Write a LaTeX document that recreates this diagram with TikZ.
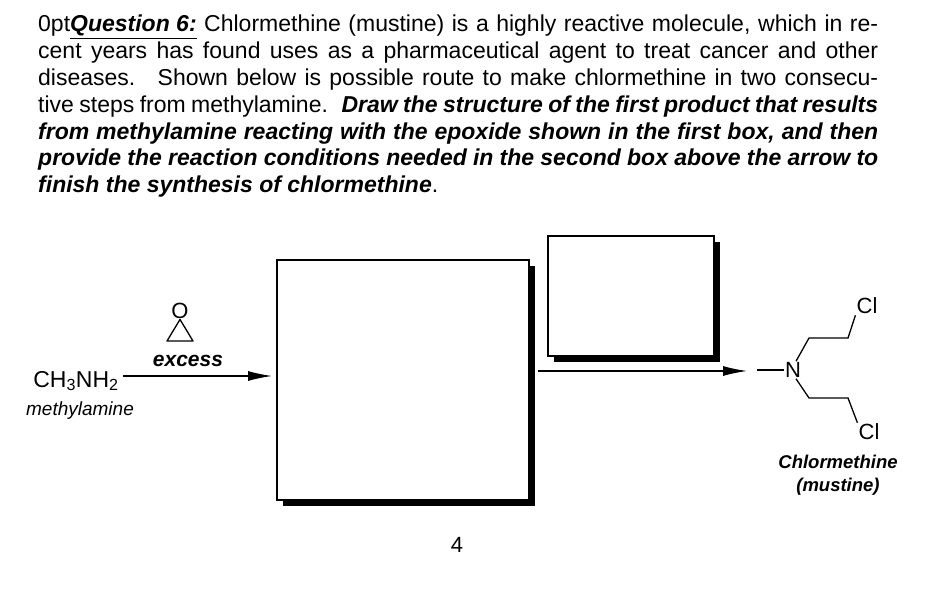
\documentclass[tikz,border=0pt]{standalone}
\usepackage{fontspec}
\setmainfont{Liberation Sans}
\usetikzlibrary{arrows.meta}
\begin{document}
\begin{tikzpicture}[x=1pt,y=-1pt,
  bx/.style={draw,line width=1.2pt,fill=white},
  sh/.style={fill=black},
  rarr/.style={line width=1.2pt,-{Latex[length=24pt,width=10pt]}},
  bd/.style={line width=1.3pt}]
\useasboundingbox (0,0) rectangle (932,597);
\node[anchor=north west,inner sep=0pt,text width=840pt,align=justify,font=\fontsize{23}{26.8}\selectfont\hyphenpenalty=10000\exhyphenpenalty=10000] (q) at (38,15)
{\underline{\textbf{\textit{Question 6:}}} Chlormethine (mustine) is a highly reactive molecule, which in recent years has found uses as a pharmaceutical agent to treat cancer and other diseases. \ Shown below is possible route to make chlormethine in two consecutive steps from methylamine. \ \textbf{\textit{Draw the structure of the first product that results from methylamine reacting with the epoxide shown in the first box, and then provide the reaction conditions needed in the second box above the arrow to finish the synthesis of chlormethine}}.};
% boxes
\fill[sh] (283,266) rectangle (535,506);
\draw[bx] (277,260) rectangle (529,500);
\fill[sh] (554,242) rectangle (720,362);
\draw[bx] (548,236) rectangle (714,356);
% starting material
\node[font=\fontsize{23}{23}\selectfont,inner sep=0pt] (sm) at (76,381) {CH\textsubscript{3}NH\textsubscript{2}};
\node[font=\fontsize{19}{19}\selectfont\itshape] (sml) at (80,411) {methylamine};
\coordinate (a1s) at (123,376);
\coordinate (a1e) at (272,376);
\draw[rarr] (a1s) -- (a1e);
\node[font=\fontsize{21}{21}\selectfont\bfseries\itshape] (ex) at (188,361) {excess};
% epoxide
\node[font=\fontsize{22}{22}\selectfont,inner sep=0.5pt] (O) at (180,311) {O};
\draw[bd,line join=round] (O.south) -- (167,341) -- (193,341) -- cycle;
% second arrow
\coordinate (a2s) at (538,371);
\coordinate (a2e) at (747,371);
\draw[rarr] (a2s) -- (a2e);
% product
\node[font=\fontsize{22}{22}\selectfont,inner sep=1pt] (N) at (793,370) {N};
\coordinate (me) at (757,370);
\draw[bd] (me) -- (N.west);
\node[font=\fontsize{22}{22}\selectfont,inner sep=1pt] (cl1) at (867,306) {Cl};
\node[font=\fontsize{22}{22}\selectfont,inner sep=1pt] (cl2) at (869,432) {Cl};
\draw[bd] (N.north) ++(3,0) -- (809,338) -- (848,338) -- (cl1.south west);
\draw[bd] (N.south) ++(3,0) -- (809,398) -- (848,398) -- (cl2.north west);
\node[font=\fontsize{18.5}{18.5}\selectfont\bfseries\itshape] (pl1) at (838,462) {Chlormethine};
\node[font=\fontsize{18.5}{18.5}\selectfont\bfseries\itshape] (pl2) at (838,487) {(mustine)};
\node[font=\fontsize{22}{22}\selectfont] (pg) at (457,545) {4};
\end{tikzpicture}
\end{document}
